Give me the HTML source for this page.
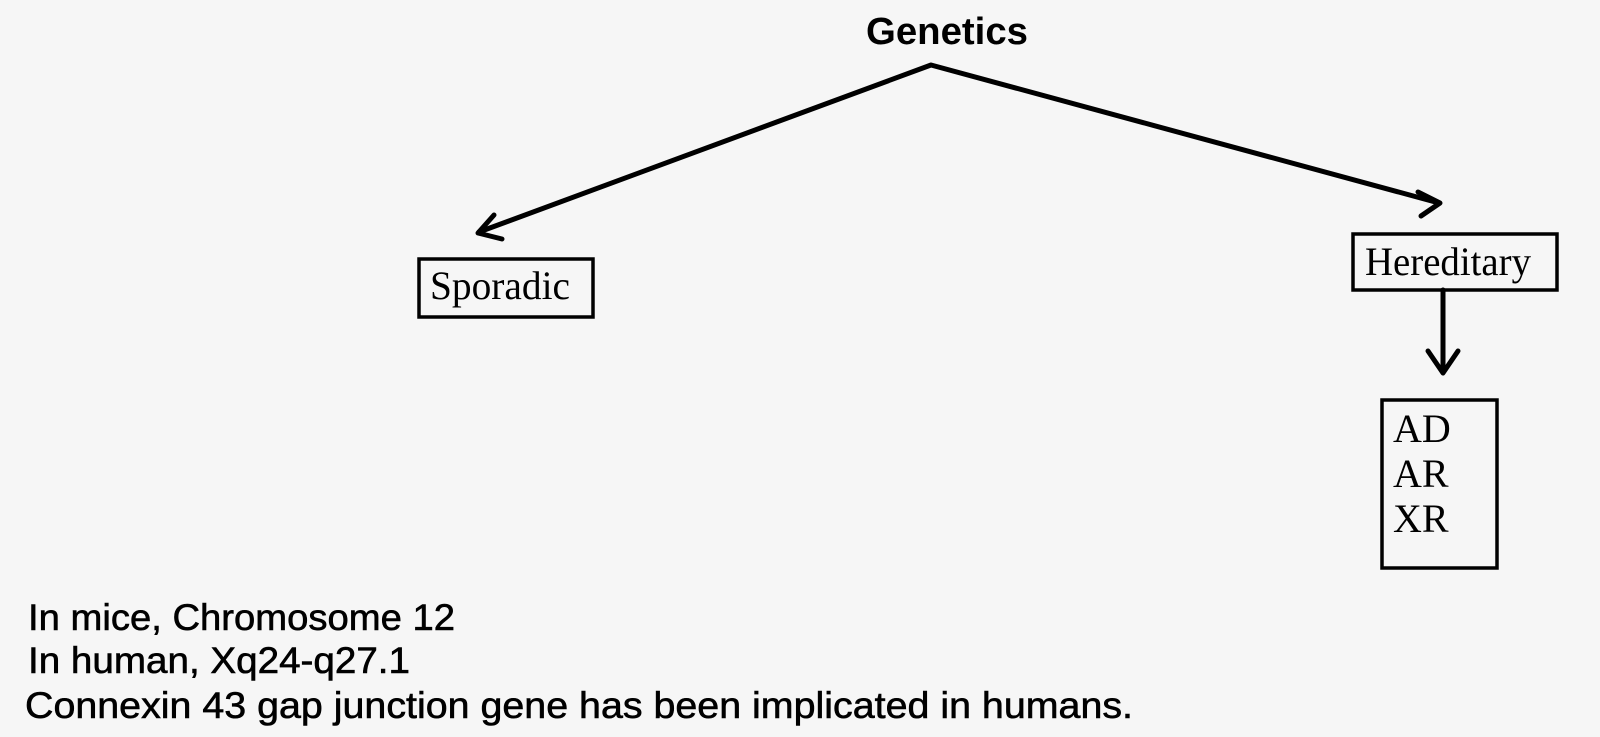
<!DOCTYPE html>
<html><head><meta charset="utf-8"><style>html,body{margin:0;padding:0;background:#f6f6f6}svg{display:block}</style></head>
<body>
<svg width="1600" height="737" viewBox="0 0 1600 737" xmlns="http://www.w3.org/2000/svg">
<rect width="1600" height="737" fill="#f6f6f6"/>
<text x="866" y="44" font-family="Liberation Sans, sans-serif" font-weight="bold" font-size="38" textLength="162" lengthAdjust="spacingAndGlyphs" fill="#000">Genetics</text>
<g stroke="#000" stroke-width="5" fill="none" stroke-linecap="round" stroke-linejoin="round">
<polyline points="479,232 931,65 1439,203"/>
<polyline points="494,215 478,233 502,239"/>
<polyline points="1418,192 1440,203 1421,216"/>
<line x1="1443" y1="290" x2="1443" y2="372"/>
<polyline points="1428,351 1443,373 1458,351"/>
</g>
<g stroke="#000" stroke-width="3.5" fill="none">
<rect x="419" y="259" width="174" height="58"/>
<rect x="1353" y="234" width="204" height="56"/>
<rect x="1382" y="400" width="115" height="168"/>
</g>
<g font-family="Liberation Serif, serif" font-size="40" fill="#000">
<text x="430" y="299" textLength="140" lengthAdjust="spacingAndGlyphs">Sporadic</text>
<text x="1365" y="275" textLength="166" lengthAdjust="spacingAndGlyphs">Hereditary</text>
<text x="1393" y="442">AD</text>
<text x="1393" y="487">AR</text>
<text x="1393" y="532">XR</text>
</g>
<g font-family="Liberation Sans, sans-serif" font-size="37" fill="#000" stroke="#000" stroke-width="0.6" lengthAdjust="spacingAndGlyphs">
<text x="28" y="630" textLength="427" lengthAdjust="spacingAndGlyphs">In mice, Chromosome 12</text>
<text x="28" y="673" textLength="382" lengthAdjust="spacingAndGlyphs">In human, Xq24-q27.1</text>
<text x="25" y="718" textLength="1108" lengthAdjust="spacingAndGlyphs">Connexin 43 gap junction gene has been implicated in humans.</text>
</g>
</svg>
</body></html>
